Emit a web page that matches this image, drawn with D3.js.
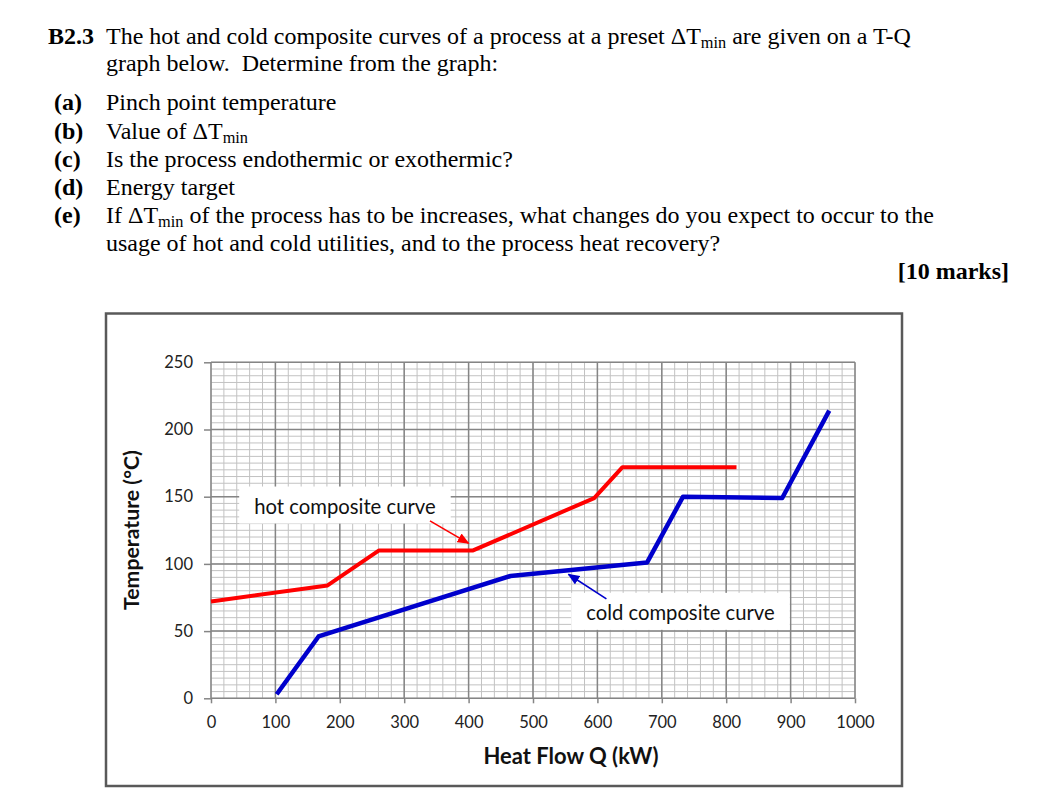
<!DOCTYPE html>
<html>
<head>
<meta charset="utf-8">
<script src="https://cdn.jsdelivr.net/npm/d3@7"></script>
<style>
  html,body{margin:0;padding:0;background:#fff;}
  svg{display:block;}
  text{white-space:pre;}
</style>
</head>
<body>
<svg id="chart" width="1038" height="799"></svg>
<script>
// ---------- data ----------
const hotQ  = [0, 181, 261, 407, 595, 639, 816];
const hotT  = [72, 84, 110, 110, 149, 172, 172];
const coldQ = [102, 167, 465, 677, 733, 887, 960];
const coldT = [3, 46, 91, 101, 150, 149, 214];

const xTicks = [0, 100, 200, 300, 400, 500, 600, 700, 800, 900, 1000];
const yTicks = [0, 50, 100, 150, 200, 250];
const xMinorStep = 20;
const yMinorStep = 5;

const labelText  = ["hot composite curve", "cold composite curve"];
const labelQ     = [208, 729];
const labelT     = [143.8, 64.7];
const arrowFromQ = [340, 614];
const arrowFromT = [132, 74];
const arrowToQ   = [400, 555];
const arrowToT   = [115.3, 92.3];
const seriesColor = ["#ff0000", "#0000cc"];

const xTitle = "Heat Flow Q (kW)";
const yTitle = "Temperature (°C)";

// ---------- layout ----------
const svg = d3.select("#chart");
const serif = "'Liberation Serif','Times New Roman',serif";
const sans = "Lato, 'Open Sans', sans-serif";

function fit(sel, w) {
  const len = sel.node().getComputedTextLength();
  const fs = parseFloat(sel.attr("font-size"));
  sel.attr("font-size", fs * w / len);
  return fs * w / len;
}

// ---------- question text ----------
const q = svg.append("g").attr("font-family", serif).attr("fill", "#000");
const bodyFs = 21;
const line1 = q.append("text").attr("x", 106).attr("y", 43.5).attr("font-size", bodyFs).attr("font-family", serif);
line1.append("tspan").text("The hot and cold composite curves of a process at a preset \u0394T");
const sub1 = line1.append("tspan").attr("font-family", serif).attr("font-size", bodyFs*0.68).attr("dy", 4).text("min");
line1.append("tspan").attr("dy", -4).text(" are given on a T-Q");
const fs = fit(line1, 805);
sub1.attr("font-size", fs*0.68);

q.append("text").attr("x", 48).attr("y", 43.5).attr("font-size", fs).attr("font-weight", "bold").text("B2.3");
q.append("text").attr("x", 106).attr("y", 71).attr("font-size", fs).text("graph below.  Determine from the graph:");

const items = [
  ["(a)", 110, [["Pinch point temperature", 0]]],
  ["(b)", 138.5, [["Value of \u0394T", 0], ["min", 1]]],
  ["(c)", 166.5, [["Is the process endothermic or exothermic?", 0]]],
  ["(d)", 194.5, [["Energy target", 0]]],
  ["(e)", 222.5, [["If \u0394T", 0], ["min", 1], [" of the process has to be increases, what changes do you expect to occur to the", 0]]],
  ["", 251, [["usage of hot and cold utilities, and to the process heat recovery?", 0]]]
];
items.forEach(([lab, y, parts]) => {
  if (lab) q.append("text").attr("x", 54).attr("y", y).attr("font-size", fs).attr("font-weight", "bold").text(lab);
  const t = q.append("text").attr("x", 106).attr("y", y).attr("font-size", fs).attr("font-family", serif);
  let shifted = false;
  parts.forEach(([s, sub]) => {
    const ts = t.append("tspan").attr("font-family", serif).text(s);
    if (sub) { ts.attr("font-size", fs*0.68).attr("dy", 4); shifted = true; }
    else if (shifted) { ts.attr("dy", -4); shifted = false; }
  });
});
q.append("text").attr("x", 1009).attr("y", 279).attr("font-size", fs).attr("font-weight", "bold")
  .attr("text-anchor", "end").text("[10 marks]");

// ---------- chart frame ----------
svg.append("rect").attr("x", 106).attr("y", 313.5).attr("width", 796).attr("height", 472.5)
  .attr("fill", "#fff").attr("stroke", "#595959").attr("stroke-width", 2.5);

const x = d3.scaleLinear().domain([xTicks[0], xTicks[xTicks.length-1]]).range([211, 855]);
const y = d3.scaleLinear().domain([yTicks[0], yTicks[yTicks.length-1]]).range([698.3, 362.3]);

const g = svg.append("g");
const minorC = "#c2c2c2", majorC = "#858585";

// minor grid
g.append("g").selectAll("line").data(d3.range(x.domain()[0], x.domain()[1] + 0.1, xMinorStep))
  .join("line").attr("x1", d => x(d)).attr("x2", d => x(d)).attr("y1", y(0)).attr("y2", y(250))
  .attr("stroke", minorC).attr("stroke-width", 1);
g.append("g").selectAll("line").data(d3.range(y.domain()[0], y.domain()[1] + 0.1, yMinorStep))
  .join("line").attr("y1", d => y(d)).attr("y2", d => y(d)).attr("x1", x(0)).attr("x2", x(1000))
  .attr("stroke", minorC).attr("stroke-width", 1);

// major grid via axes
const xAxis = g.append("g").attr("transform", `translate(0,${y(0)})`)
  .call(d3.axisBottom(x).tickValues(xTicks).tickSize(5).tickPadding(13).tickFormat(d3.format("d")));
const yAxis = g.append("g").attr("transform", `translate(${x(0)},0)`)
  .call(d3.axisLeft(y).tickValues(yTicks).tickSize(7).tickPadding(11).tickFormat(d3.format("d")));
[xAxis, yAxis].forEach(a => {
  a.select(".domain").remove();
  a.selectAll(".tick line").attr("stroke", majorC).attr("stroke-width", 1.5);
  a.selectAll(".tick text").attr("font-family", sans).attr("font-size", 16.5).attr("fill", "#222");
});
g.append("g").selectAll("line").data(xTicks).join("line")
  .attr("x1", d => x(d)).attr("x2", d => x(d)).attr("y1", y(0)).attr("y2", y(250))
  .attr("stroke", majorC).attr("stroke-width", 1.5);
g.append("g").selectAll("line").data(yTicks).join("line")
  .attr("y1", d => y(d)).attr("y2", d => y(d)).attr("x1", x(0)).attr("x2", x(1000))
  .attr("stroke", majorC).attr("stroke-width", 1.5);

// axis titles
const xt = svg.append("text").attr("x", 571).attr("y", 764).attr("text-anchor", "middle")
  .attr("font-family", sans).attr("font-weight", "bold").attr("font-size", 19).attr("fill", "#111").text(xTitle);
fit(xt, 175);
const yt = svg.append("text").attr("transform", "translate(139,530) rotate(-90)").attr("text-anchor", "middle")
  .attr("font-family", sans).attr("font-weight", "bold").attr("font-size", 19).attr("fill", "#111").text(yTitle);
fit(yt, 160);

// ---------- curves ----------
const line = d3.line().x(d => x(d[0])).y(d => y(d[1]));
const hot = hotQ.map((v, i) => [v, hotT[i]]);
const cold = coldQ.map((v, i) => [v, coldT[i]]);
svg.append("path").attr("d", line(hot)).attr("fill", "none").attr("stroke", seriesColor[0])
  .attr("stroke-width", 4).attr("stroke-linejoin", "round");
svg.append("path").attr("d", line(cold)).attr("fill", "none").attr("stroke", seriesColor[1])
  .attr("stroke-width", 4.5).attr("stroke-linejoin", "round");

// ---------- annotations ----------
const defs = svg.append("defs");
seriesColor.forEach((c, i) => {
  defs.append("marker").attr("id", "arr" + i).attr("markerUnits", "userSpaceOnUse")
    .attr("viewBox", "0 0 12 10").attr("refX", 11).attr("refY", 5)
    .attr("markerWidth", 12).attr("markerHeight", 10).attr("orient", "auto")
    .append("path").attr("d", "M0,0 L12,5 L0,10 Z").attr("fill", c);
});
labelText.forEach((s, i) => {
  const cx = x(labelQ[i]), cy = y(labelT[i]);
  const gg = svg.append("g");
  const r = gg.append("rect").attr("fill", "#fff");
  const t = gg.append("text").attr("x", cx).attr("y", cy + (i === 0 ? 8.5 : 9)).attr("text-anchor", "middle")
    .attr("font-family", sans).attr("font-size", 17).attr("fill", "#111").text(s);
  fit(t, i === 0 ? 181.6 : 188.6);
  const bb = t.node().getBBox();
  r.attr("x", bb.x - 15).attr("y", cy - 18.5).attr("width", bb.width + 30).attr("height", 37);
  svg.append("line").attr("x1", x(arrowFromQ[i])).attr("y1", y(arrowFromT[i]))
    .attr("x2", x(arrowToQ[i])).attr("y2", y(arrowToT[i]))
    .attr("stroke", seriesColor[i]).attr("stroke-width", 1.6).attr("marker-end", `url(#arr${i})`);
});
</script>
</body>
</html>
